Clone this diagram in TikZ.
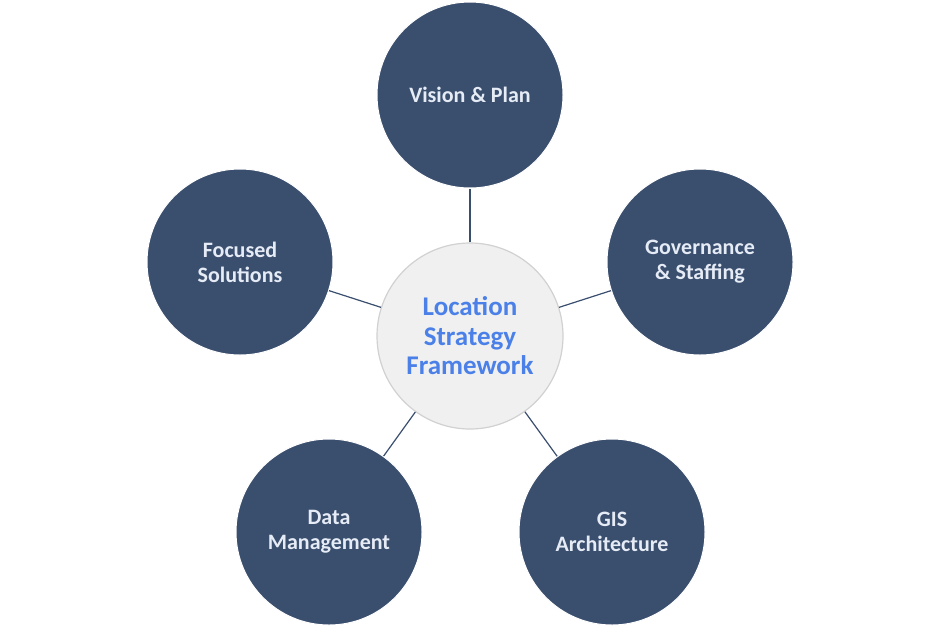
\documentclass[tikz,border=0pt]{standalone}
\usepackage{fontspec}
\setmainfont{Carlito}
\definecolor{navy}{HTML}{3A4E6E}
\definecolor{ctxt}{HTML}{4A80E8}
\definecolor{otxt}{HTML}{E6ECF6}
\begin{document}
\begin{tikzpicture}[x=1pt,y=-1pt,
  outer/.style={circle,fill=navy,draw=white,line width=1pt,minimum size=186pt,inner sep=0pt,align=center,text=otxt,font=\fontsize{22}{25}\selectfont\bfseries},
  center/.style={circle,fill=black!6,draw=black!18,line width=1.2pt,minimum size=186pt,inner sep=0pt,align=center,text=ctxt,font=\fontsize{27}{29.5}\selectfont\bfseries},
  link/.style={draw=navy,line width=1.2pt}]
\useasboundingbox[fill=white] (0,0) rectangle (941,627);
\node[center] (c) at (470,336) {Location\\Strategy\\Framework};
\node[outer] (v) at (470,95) {Vision \& Plan};
\node[outer] (g) at (700,262) {Governance\\\& Staffing};
\node[outer] (s) at (612,532) {GIS\\Architecture};
\node[outer] (d) at (329,532) {Data\\Management};
\node[outer] (f) at (240,262) {Focused\\Solutions};
\foreach \n in {v,g,s,d,f} \draw[link] (c) -- (\n);
\end{tikzpicture}
\end{document}
